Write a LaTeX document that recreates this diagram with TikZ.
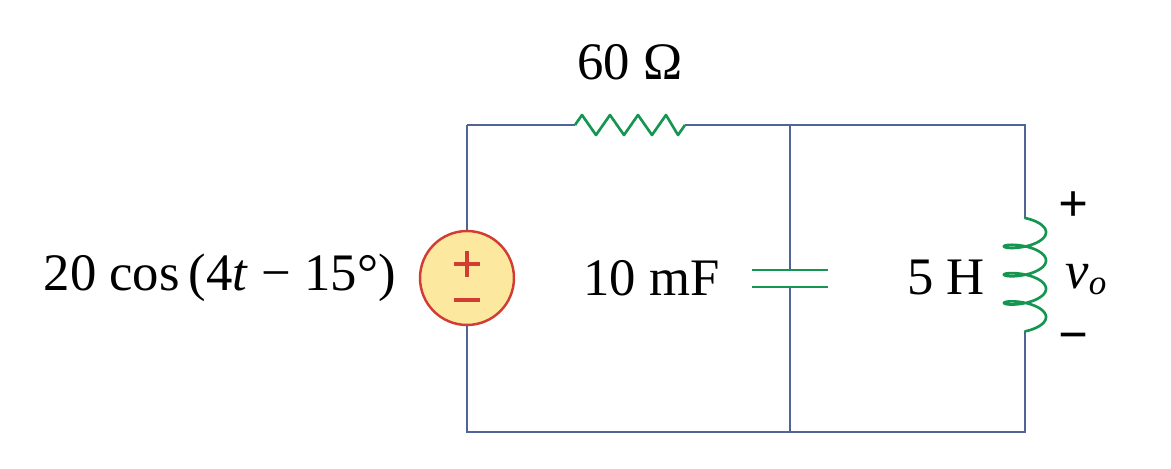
\documentclass[tikz,border=0pt]{standalone}
\usepackage{fontspec}
\setmainfont{Liberation Serif}
\begin{document}
\begin{tikzpicture}[x=0.02cm,y=-0.02cm,
  wire/.style={draw=wirec,line width=1.5pt},
  comp/.style={draw=compc,line width=1.5pt},
  lbl/.style={font=\fontsize{30}{34}\selectfont,inner sep=0pt}]
\definecolor{wirec}{RGB}{80,100,150}
\definecolor{compc}{RGB}{20,150,80}
\definecolor{srcfill}{RGB}{253,232,160}
\definecolor{srcline}{RGB}{210,60,50}
\useasboundingbox (0,0) rectangle (1171,469);
\coordinate (tl) at (467,125); \coordinate (bl) at (467,432);
\coordinate (tm) at (790,125); \coordinate (bm) at (790,432);
\coordinate (tr) at (1025,125); \coordinate (br) at (1025,432);
\coordinate (ra) at (575,125); \coordinate (rb) at (685,125);
\coordinate (ct) at (790,270); \coordinate (cb) at (790,287);
\coordinate (lt) at (1025,218); \coordinate (lb) at (1025,332);
\node[circle,inner sep=0pt,fill=srcfill,draw=srcline,line width=1.4pt,minimum size=1.88cm] (src) at (467,278) {};
\draw[wire] (tl) -- (ra); \draw[wire] (rb) -- (tr) -- (lt);
\draw[wire] (lb) -- (br) -- (bl) -- (src.south);
\draw[wire] (src.north) -- (tl);
\draw[wire] (tm) -- (ct); \draw[wire] (cb) -- (bm);
\draw[comp,line join=round] (ra) -- (582,115) -- (596,135) -- (610,115) -- (624,135) -- (638,115) -- (652,135) -- (666,115) -- (678,135) -- (rb);
\draw[comp] (752,270) -- (828,270); \draw[comp] (752,287) -- (828,287);
\draw[comp,line cap=round] plot[domain=0:21.99,samples=220,smooth] ({1025+21*sin(\x r)},{218+4.5*\x-7.2*cos(\x r)+7.2});
\draw[srcline,line width=2pt] (454,264) -- (480,264) (467,251) -- (467,277);
\draw[srcline,line width=2pt] (454,300) -- (480,300);
\node[lbl] (r1) at (630,62) {60 Ω};
\node[lbl,anchor=east] (vs) at (396,278) {20 cos\,(4\textit{t} − 15°)};
\node[lbl,anchor=east] (cl) at (720,278) {10 mF};
\node[lbl,anchor=east] (ll) at (985,278) {5 H};
\node[lbl,font=\fontsize{30}{34}\selectfont\bfseries] (pl) at (1074,207) {+};
\node[lbl,font=\fontsize{30}{34}\selectfont\bfseries] (mi) at (1074,343) {−};
\node[lbl] (vo) at (1086,280) {\textit{v}\raisebox{-0.25ex}{\fontsize{20}{22}\selectfont\textit{o}}};
\end{tikzpicture}
\end{document}
